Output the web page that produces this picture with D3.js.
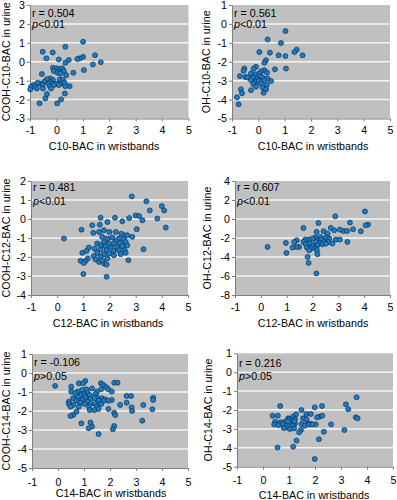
<!DOCTYPE html>
<html>
<head>
<meta charset="utf-8">
<script src="https://d3js.org/d3.v7.min.js"></script>
<style>
  body { margin: 0; background: #fff; }
  svg { display: block; font-family: Arial, "Liberation Sans", sans-serif; }
  .plotBg { fill: #c0c0c0; }
  .grid line { stroke: #f4f4f4; stroke-width: 1.5px; }
  .axis path, .axis line { stroke: #7f7f7f; }
  .axis text { fill: #000; font-size: 10.7px; font-family: Arial, "Liberation Sans", sans-serif; }
  .dot { fill: #1c7ec2; stroke: #0d2f5c; stroke-width: 0.7px; }
  .label { font-size: 10.7px; fill: #000; }
</style>
</head>
<body>
<div id="chart"></div>
<script>

// x = log wristband level, y = log urine metabolite level
var c10Cooh = [[1.01,1.06],[0.34,0.79],[-0.52,0.53],[-0.14,0.49],[1.46,0.35],[1.01,0.26],[0.88,0.18],[0.79,0.14],[0.47,0.09],[0.09,0.12],[-0.38,0.18],[1.68,-0.02],[0.34,-0.05],[1.38,-0.14],[1.04,-0.44],[0.64,-0.58],[-0.13,-0.32],[0,-0.35],[0.13,-0.39],[0.22,-0.35],[0.28,-0.48],[-0.1,-0.49],[0.05,-0.58],[0.15,-0.62],[0.37,-0.71],[-0.55,-0.65],[-0.23,-0.88],[-0.36,-0.92],[-0.13,-0.97],[0.13,-0.93],[0.25,-0.97],[-0.46,-1.06],[-0.23,-1.06],[-0.17,-1.15],[-0.29,-1.15],[0.03,-1.15],[0.18,-1.15],[0.31,-1.11],[-0.61,-1.15],[-0.71,-1.11],[-0.87,-1.23],[-0.96,-1.32],[-0.8,-1.32],[-0.52,-1.23],[-0.25,-1.29],[-0.1,-1.23],[0.09,-1.23],[0.5,-1.29],[-0.99,-1.46],[-0.74,-1.41],[-0.51,-1.41],[-0.2,-1.41],[0.34,-1.29],[0.32,-1.68],[-0.36,-1.71],[-0.42,-1.94],[0.18,-1.99],[0.03,-2.2],[-0.64,-2.2]];

var c10Oh = [[1.03,-0.38],[0.35,-0.82],[0.86,-1.01],[1.46,-1.36],[1.37,-1.49],[0.04,-1.49],[0.44,-1.52],[1.03,-1.70],[1.68,-1.66],[0.77,-1.66],[0.29,-1.92],[0.23,-2.05],[1.05,-2.36],[0.63,-2.40],[-0.53,-2.36],[-0.56,-2.48],[-0.09,-2.27],[-0.18,-2.36],[0.23,-2.45],[0.11,-2.50],[0.33,-2.57],[-0.28,-2.62],[-0.11,-2.66],[0.04,-2.62],[-0.7,-2.76],[-0.49,-2.80],[-0.41,-2.83],[-0.19,-2.83],[-0.03,-2.88],[0.06,-2.76],[0.16,-2.83],[0.35,-2.88],[-0.28,-2.97],[-0.11,-3.06],[0.01,-3.01],[0.23,-2.97],[0.48,-3.02],[-0.19,-3.18],[0.1,-3.15],[0.32,-3.23],[-0.09,-3.32],[0.16,-3.36],[-0.28,-3.50],[0.29,-3.46],[-0.66,-3.46],[-0.62,-3.67],[0.2,-3.64],[-0.81,-3.88],[-0.75,-4.25]];

var c12Cooh = [[2.85,1.19],[3.41,0.93],[4.0,0.68],[4.09,0.45],[3.54,0.45],[3.0,0.19],[3.13,0.16],[1.66,0.07],[2.21,0.07],[3.26,-0.07],[3.83,0.02],[2.49,-0.12],[1.92,-0.16],[2.75,0.05],[1.63,-0.30],[1.34,-0.33],[4.15,-0.45],[3.04,-0.54],[0.93,-0.56],[1.79,-0.59],[1.6,-0.68],[1.38,-0.73],[2.0,-0.68],[2.24,-0.68],[2.45,-0.77],[2.58,-0.86],[2.87,-0.94],[2.68,-0.86],[0.26,-1.03],[1.72,-0.94],[1.92,-1.03],[2.11,-0.98],[2.36,-1.03],[2.55,-1.07],[2.24,-1.17],[1.79,-1.21],[1.98,-1.29],[2.17,-1.29],[2.40,-1.26],[2.62,-1.21],[1.53,-1.29],[1.66,-1.38],[1.85,-1.43],[2.07,-1.50],[2.30,-1.50],[2.49,-1.43],[2.68,-1.38],[1.21,-1.50],[1.43,-1.56],[1.66,-1.61],[1.89,-1.64],[2.15,-1.68],[2.36,-1.64],[2.58,-1.64],[3.30,-1.59],[1.12,-1.68],[0.96,-1.78],[1.53,-1.78],[1.79,-1.85],[1.98,-1.82],[2.17,-1.91],[2.43,-1.85],[2.62,-1.78],[1.40,-1.96],[1.66,-1.99],[1.17,-2.08],[1.47,-2.13],[1.92,-2.08],[0.89,-2.20],[1.09,-2.20],[1.02,-2.31],[2.72,-2.17],[1.6,-2.26],[1.79,-2.34],[1.89,-2.40],[1.72,-2.17],[1.0,-2.90],[1.89,-3.04]];

var c12Oh = [[4.03,0.80],[2.88,0.28],[3.45,-0.38],[4.15,-0.59],[4.06,-0.66],[2.23,-0.42],[3.57,-1.08],[3.87,-1.29],[3.2,-1.26],[3.06,-1.12],[3.34,-1.26],[2.84,-1.19],[2.71,-0.94],[1.65,-0.94],[2.16,-1.36],[2.43,-1.29],[2.58,-1.54],[2.30,-1.89],[2.52,-1.96],[2.1,-1.96],[1.87,-2.17],[2.0,-2.06],[2.19,-2.24],[2.35,-2.17],[2.65,-2.06],[2.90,-2.17],[3.06,-2.17],[1.72,-2.17],[1.65,-2.41],[1.90,-2.59],[2.13,-2.41],[2.30,-2.52],[2.45,-2.41],[2.61,-2.41],[2.77,-2.59],[3.35,-2.41],[1.39,-2.24],[1.29,-2.41],[0.97,-2.52],[1.74,-2.66],[2.0,-2.87],[2.19,-2.76],[2.39,-2.66],[2.52,-2.59],[1.78,-3.01],[1.94,-3.11],[1.48,-2.94],[1.38,-2.94],[1.23,-3.01],[0.26,-2.94],[1.87,-3.29],[2.13,-3.11],[2.17,-3.29],[2.19,-3.71],[0.99,-3.57],[1.81,-3.99],[1.85,-4.62],[2.15,-5.73]];

var c14Cooh = [[1.05,-0.42],[0.80,-0.54],[2.16,-0.51],[2.29,-0.51],[1.65,-0.54],[1.75,-0.63],[-0.11,-0.68],[0.97,-0.54],[1.86,-0.75],[0.51,-0.72],[1.31,-0.81],[1.09,-0.86],[1.66,-0.86],[1.94,-0.86],[0.51,-0.98],[0.76,-0.98],[0.93,-0.89],[1.14,-1.04],[1.50,-0.98],[2.07,-0.98],[0.67,-1.07],[0.99,-1.12],[0.86,-1.16],[1.22,-1.16],[1.44,-1.11],[2.64,-1.21],[2.81,-1.21],[0.76,-1.25],[1.05,-1.28],[1.50,-1.28],[1.69,-1.33],[1.82,-1.39],[3.66,-1.30],[3.66,-1.42],[0.58,-1.33],[1.25,-1.37],[1.41,-1.33],[2.07,-1.42],[1.94,-1.46],[0.93,-1.42],[0.71,-1.46],[0.42,-1.51],[1.14,-1.51],[1.56,-1.46],[1.75,-1.47],[2.64,-1.56],[0.86,-1.56],[1.02,-1.63],[1.25,-1.63],[1.44,-1.63],[1.66,-1.63],[0.42,-1.63],[0.58,-1.68],[2.39,-1.68],[3.28,-1.68],[0.80,-1.77],[1.19,-1.77],[1.50,-1.77],[0.48,-1.77],[2.83,-1.81],[3.63,-1.91],[1.94,-1.89],[1.22,-1.95],[1.40,-1.95],[1.56,-1.89],[0.71,-2.04],[2.85,-2.0],[2.16,-2.09],[2.2,-2.21],[0.58,-2.21],[0.48,-2.26],[3.24,-2.51],[0.90,-2.65],[1.25,-2.60],[1.31,-2.82],[2.16,-2.79],[1.18,-2.91],[2.11,-2.96],[1.56,-3.21]];

var c14Oh = [[0.66,-1.79],[1.48,-2.0],[1.99,-1.86],[2.27,-1.79],[0.37,-2.30],[0.57,-2.30],[1.27,-2.23],[1.16,-2.35],[1.67,-2.21],[1.84,-2.21],[2.18,-2.35],[2.08,-2.39],[2.28,-2.30],[0.97,-2.44],[1.23,-2.48],[1.10,-2.56],[1.54,-2.44],[0.47,-2.62],[0.68,-2.65],[0.85,-2.62],[1.01,-2.67],[1.23,-2.71],[0.43,-2.76],[0.59,-2.79],[0.76,-2.76],[1.14,-2.83],[1.48,-2.74],[1.71,-2.67],[1.86,-2.74],[2.03,-2.76],[1.61,-2.83],[1.77,-2.76],[1.90,-2.76],[0.91,-2.93],[1.04,-3.0],[1.20,-2.97],[1.46,-3.06],[1.39,-3.18],[2.34,-3.15],[2.15,-3.55],[1.29,-3.62],[1.16,-3.94],[0.56,-3.99],[1.99,-4.59],[3.60,-1.33],[3.19,-1.70],[3.28,-1.96],[3.57,-2.39],[3.64,-2.44],[2.62,-2.76],[3.13,-3.06],[1.67,-2.49],[1.0,-2.5],[0.95,-2.6],[1.2,-2.6],[0.8,-2.95]];

var xTicks = [-1, 0, 1, 2, 3, 4, 5];
var yTicks = [
  [-3, -2, -1, 0, 1, 2, 3],
  [-5, -4, -3, -2, -1, 0, 1],
  [-4, -3, -2, -1, 0, 1, 2],
  [-8, -6, -4, -2, 0, 2, 4],
  [-5, -4, -3, -2, -1, 0, 1],
  [-5, -4, -3, -2, -1, 0, 1]
];
var yTitles = ["COOH-C10-BAC in urine", "OH-C10-BAC in urine", "COOH-C12-BAC in urine",
               "OH-C12-BAC in urine", "COOH-C14-BAC in urine", "OH-C14-BAC in urine"];
var xTitles = ["C10-BAC in wristbands", "C10-BAC in wristbands", "C12-BAC in wristbands",
               "C12-BAC in wristbands", "C14-BAC in wristbands", "C14-BAC in wristbands"];
var rLabels = ["r = 0.504", "r = 0.561", "r = 0.481", "r = 0.607", "r = -0.106", "r = 0.216"];
var pLabels = ["<0.01", "<0.01", "<0.01", "<0.01", ">0.05", ">0.05"];
var series = [c10Cooh, c10Oh, c12Cooh, c12Oh, c14Cooh, c14Oh];

// pixel layout of each panel
var layout = [
  {x0: 30, x1: 188.5, y0: 5,   y1: 118.5, yt: 10,  xtc: 104, xtb: 150, pad: 4.5, r1: 16.7,  r2: 28.3},
  {x0: 232, x1: 390,  y0: 5,   y1: 118.5, yt: 210, xtc: 313, xtb: 150, pad: 4.5, r1: 16.7,  r2: 28.3},
  {x0: 31, x1: 188,   y0: 181, y1: 295,   yt: 9.5, xtc: 108, xtb: 327, pad: 5.2, r1: 190.7, r2: 205},
  {x0: 235, x1: 390,  y0: 181, y1: 295,   yt: 211, xtc: 313, xtb: 327, pad: 5.2, r1: 190.7, r2: 205},
  {x0: 32, x1: 188,   y0: 354, y1: 468,   yt: 9.5, xtc: 111, xtb: 497, pad: 7,   r1: 366,   r2: 379.5},
  {x0: 237, x1: 393,  y0: 353.3, y1: 466.7, yt: 212, xtc: 314, xtb: 499, pad: 6.7, r1: 366.7, r2: 379.5}
];

// Excel style labels: plain hyphen, no decimals
var fmt = function(d) { return String(d); };

var svg = d3.select("#chart").append("svg")
    .attr("width", 397)
    .attr("height", 500);

series.forEach(function(data, i) {
  var L = layout[i];
  var yt = yTicks[i];

  var x = d3.scaleLinear().domain([-1, 5]).range([L.x0, L.x1]);
  var y = d3.scaleLinear().domain([yt[0], yt[yt.length - 1]]).range([L.y1, L.y0]);

  var g = svg.append("g").attr("class", "panel");

  g.append("rect")
      .attr("class", "plotBg")
      .attr("x", L.x0)
      .attr("y", L.y0)
      .attr("width", L.x1 - L.x0)
      .attr("height", L.y1 - L.y0);

  g.append("g")
      .attr("class", "grid")
    .selectAll("line")
      .data(yt.slice(1, yt.length - 1))
      .enter()
      .append("line")
      .attr("x1", L.x0)
      .attr("x2", L.x1)
      .attr("y1", function(d) { return y(d); })
      .attr("y2", function(d) { return y(d); });

  g.append("g")
      .attr("class", "axis")
      .attr("transform", "translate(0," + L.y1 + ")")
      .call(d3.axisBottom(x).tickValues(xTicks).tickFormat(fmt)
        .tickSize(3).tickSizeOuter(0).tickPadding(L.pad));

  g.append("g")
      .attr("class", "axis")
      .attr("transform", "translate(" + L.x0 + ",0)")
      .call(d3.axisLeft(y).tickValues(yt).tickFormat(fmt)
        .tickSize(3).tickSizeOuter(0).tickPadding(2));

  g.append("g")
    .selectAll("circle")
      .data(data)
      .enter()
      .append("circle")
      .attr("class", "dot")
      .attr("cx", function(d) { return x(d[0]); })
      .attr("cy", function(d) { return y(d[1]); })
      .attr("r", 2.5);

  g.append("text")
      .attr("class", "label")
      .attr("x", L.x0 + 2)
      .attr("y", L.r1)
      .text(rLabels[i]);

  var p = g.append("text")
      .attr("class", "label")
      .attr("x", L.x0 + 2)
      .attr("y", L.r2);
  p.append("tspan").style("font-style", "italic").text("p");
  p.append("tspan").text(pLabels[i]);

  g.append("text")
      .attr("class", "label")
      .attr("text-anchor", "middle")
      .attr("x", L.xtc)
      .attr("y", L.xtb)
      .text(xTitles[i]);

  g.append("text")
      .attr("class", "label")
      .attr("text-anchor", "middle")
      .attr("transform", "translate(" + L.yt + "," + ((L.y0 + L.y1) / 2) + ") rotate(-90)")
      .text(yTitles[i]);
});

</script>
</body>
</html>
